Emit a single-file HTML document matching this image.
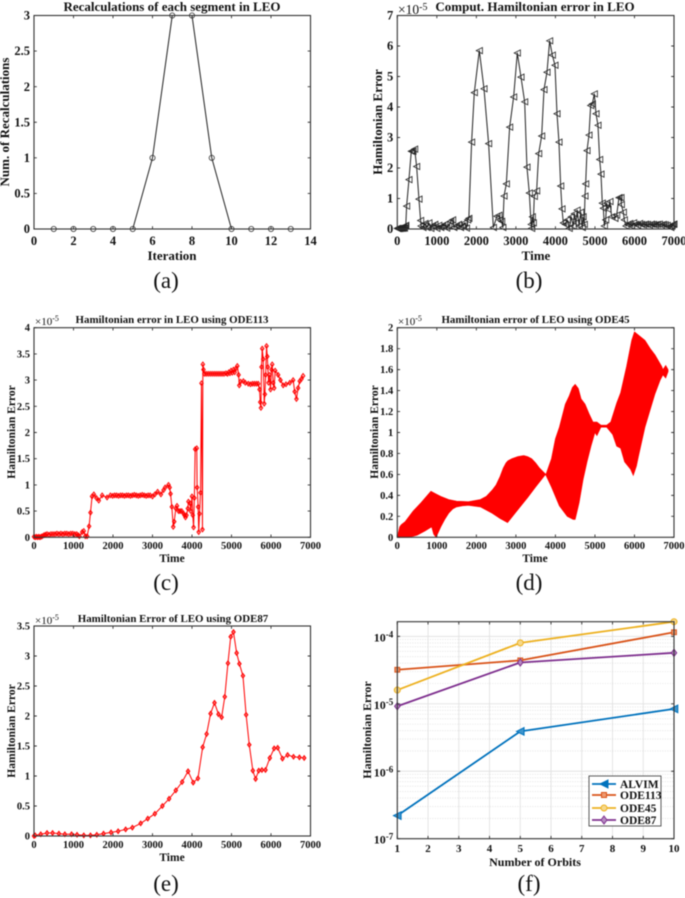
<!DOCTYPE html>
<html lang="en">
<head>
<meta charset="utf-8">
<title>Hamiltonian error charts</title>
<style>
html,body{margin:0;padding:0;background:#fff;width:685px;height:898px;overflow:hidden}
svg{display:block;filter:blur(.4px)}
text{font-family:"Liberation Serif",serif;font-weight:bold;fill:#111}
.cap{font-weight:normal;font-size:23px}
</style>
</head>
<body>
<svg id="fig" xmlns="http://www.w3.org/2000/svg" width="685" height="898" viewBox="0 0 685 898">
  <rect x="0" y="0" width="685" height="898" fill="#fff"/>

  <g id="pa"></g>
  <text x="172" y="11" text-anchor="middle" font-size="13">Recalculations of each segment in LEO</text>
  <text x="172" y="260" text-anchor="middle" font-size="13">Iteration</text>
  <text transform="translate(9,122) rotate(-90)" text-anchor="middle" font-size="13">Num. of Recalculations</text>
  <text class="cap" x="166" y="288" text-anchor="middle">(a)</text>

  <g id="pb"></g>
  <text x="535" y="11" text-anchor="middle" font-size="13">Comput. Hamiltonian error in LEO</text>
  <text x="398" y="14" font-size="13.5" style="font-weight:normal">×10<tspan dy="-4" font-size="10">-5</tspan></text>
  <text x="536" y="260" text-anchor="middle" font-size="13">Time</text>
  <text transform="translate(382,122) rotate(-90)" text-anchor="middle" font-size="13">Hamiltonian Error</text>
  <text class="cap" x="529" y="288" text-anchor="middle">(b)</text>

  <g id="pc"></g>
  <text x="172" y="323" text-anchor="middle" font-size="10.9">Hamiltonian error in LEO using ODE113</text>
  <text x="35" y="325" font-size="11" style="font-weight:normal">×10<tspan dy="-4" font-size="8">-5</tspan></text>
  <text x="172" y="562" text-anchor="middle" font-size="11.5">Time</text>
  <text transform="translate(15,432) rotate(-90)" text-anchor="middle" font-size="11.5">Hamiltonian Error</text>
  <text class="cap" x="166" y="590" text-anchor="middle">(c)</text>

  <g id="pd"></g>
  <text x="535.5" y="323" text-anchor="middle" font-size="10.9">Hamiltonian error of LEO using ODE45</text>
  <text x="398" y="325" font-size="11" style="font-weight:normal">×10<tspan dy="-4" font-size="8">-5</tspan></text>
  <text x="535" y="562" text-anchor="middle" font-size="11.5">Time</text>
  <text transform="translate(378,432) rotate(-90)" text-anchor="middle" font-size="11.5">Hamiltonian Error</text>
  <text class="cap" x="529" y="590" text-anchor="middle">(d)</text>

  <g id="pe"></g>
  <text x="173" y="622" text-anchor="middle" font-size="10.9">Hamiltonian Error of LEO using ODE87</text>
  <text x="35" y="624" font-size="11" style="font-weight:normal">×10<tspan dy="-4" font-size="8">-5</tspan></text>
  <text x="172" y="861" text-anchor="middle" font-size="11.5">Time</text>
  <text transform="translate(15,731) rotate(-90)" text-anchor="middle" font-size="11.5">Hamiltonian Error</text>
  <text class="cap" x="166" y="891" text-anchor="middle">(e)</text>

  <g id="pf"></g>
  <text x="535" y="866" text-anchor="middle" font-size="12">Number of Orbits</text>
  <text transform="translate(371,730) rotate(-90)" text-anchor="middle" font-size="12">Hamiltonian Error</text>
  <text class="cap" x="529" y="891" text-anchor="middle">(f)</text>

  <g>
    <rect x="589" y="776" width="72" height="50" fill="#fff" stroke="#333" stroke-width="0.8"/>
    <g>
      <line x1="592" x2="616" y1="784" y2="784" stroke="#0072BD" stroke-width="1.7"/>
      <path d="M600 784L608 780V788Z" fill="#0072BD" stroke="#0072BD"/>
      <text x="620" y="788" font-size="11.5">ALVIM</text>
    </g>
    <g>
      <line x1="592" x2="616" y1="795" y2="795" stroke="#D95319" stroke-width="1.7"/>
      <rect x="601.5" y="792.5" width="5" height="5" fill="#EE9A70" stroke="#D95319"/>
      <text x="620" y="799" font-size="11.5">ODE113</text>
    </g>
    <g>
      <line x1="592" x2="616" y1="808" y2="808" stroke="#EDB120" stroke-width="1.7"/>
      <circle cx="604" cy="808" r="3" fill="#F6D88A" stroke="#EDB120"/>
      <text x="620" y="812" font-size="11.5">ODE45</text>
    </g>
    <g>
      <line x1="592" x2="616" y1="820" y2="820" stroke="#7E2F8E" stroke-width="1.7"/>
      <path d="M604 816L607 820L604 824L601 820Z" fill="#B58BC0" stroke="#7E2F8E"/>
      <text x="620" y="824" font-size="11.5">ODE87</text>
    </g>
  </g>
</svg>

<script>
// ---------- chart data ----------
const iterationA = [1,2,3,4,5,6,7,8,9,10,11,12,13];
const recalcA = [0,0,0,0,0,1,3,3,1,0,0,0,0];
const xTicksA = [0,2,4,6,8,10,12,14];
const yTicksA = [0,0.5,1,1.5,2,2.5,3];

const timeB = [
0,20,40,60,80,100,120,140,160,180,
200,215,236,295,354,396,439,489,548,590,
600,650,700,750,800,850,900,950,1000,1050,
1100,1150,1200,1250,1300,1350,1400,1430,1500,1550,
1600,1650,1700,1750,1780,1810,1880,1948,2075,2193,
2310,2430,2520,2570,2600,2640,2670,2700,2758,2842,
2943,3036,3129,3222,3280,3340,3385,3400,3415,3440,
3466,3525,3576,3652,3711,3787,3854,3922,3989,4040,
4090,4133,4166,4200,4250,4300,4350,4400,4450,4480,
4520,4550,4600,4640,4680,4700,4730,4748,4765,4799,
4849,4892,4934,4984,5027,5077,5119,5153,5186,5212,
5238,5271,5296,5330,5380,5423,5507,5549,5608,5658,
5667,5718,5743,5785,5830,5880,5930,5980,6030,6080,
6130,6180,6230,6280,6330,6380,6430,6480,6530,6580,
6630,6680,6730,6780,6830,6880,6920,6950,6975,7000];
const errorB = [
0.02,0.01,0.02,0.01,0.03,0.02,0.04,0.02,0.05,0.03,
0.1,0.12,0.75,1.62,2.55,2.55,2.62,2.05,0.98,0.28,
0.1,0.05,0.18,0.05,0.2,0.02,0.1,0.15,0.02,0.12,
0.05,0.1,0.15,0.03,0.1,0.25,0.3,0.05,0.1,0.15,
0.05,0.1,0.2,0.03,0.3,0.35,2.85,4.47,5.85,4.6,
2.8,0.05,0.42,0.45,0.3,0.25,0.05,1.08,1.48,3.34,
4.33,5.77,4.98,4.17,2.03,1.18,0.15,0.02,0.4,0.2,
1.07,1.25,2.47,3.05,4.57,5.14,6.17,5.7,5.37,3.78,
2.85,1.41,0.66,0.2,0.15,0.3,0.02,0.4,0.1,0.5,
0.2,0.62,0.1,0.55,0.05,0.4,0.15,1.08,1.48,2.57,
3.08,4.05,4.1,4.43,3.78,3.4,2.28,1.8,0.85,0.68,
0.1,0.3,0.85,0.65,0.9,0.4,0.35,0.45,1.03,1.03,
0.8,0.55,0.3,0.1,0.15,0.18,0.1,0.2,0.15,0.12,
0.18,0.15,0.14,0.16,0.15,0.13,0.16,0.15,0.14,0.15,
0.16,0.13,0.15,0.14,0.12,0.08,0.05,0.1,0.15,0.16];
const xTicksB = [0,1000,2000,3000,4000,5000,6000,7000];
const yTicksB = [0,1,2,3,4,5,6,7];

const timeC = [
0,30,60,90,120,150,180,210,250,290,
330,380,430,480,530,580,630,680,730,780,
830,880,930,980,1030,1080,1120,1150,1220,1260,
1300,1345,1395,1430,1470,1515,1580,1640,1725,1850,
1935,1990,2040,2090,2140,2190,2240,2290,2340,2390,
2440,2490,2540,2590,2640,2690,2740,2790,2840,2890,
2940,3000,3060,3130,3213,3280,3320,3405,3435,3457,
3490,3525,3550,3590,3620,3660,3700,3740,3790,3810,
3835,3860,3895,3910,3950,3970,4000,4020,4040,4060,
4080,4120,4130,4155,4170,4190,4215,4240,4265,4275,
4290,4315,4360,4410,4460,4510,4560,4610,4660,4710,
4760,4810,4860,4900,4930,4960,4990,5020,5050,5080,
5110,5147,5180,5197,5230,5300,5350,5425,5480,5530,
5580,5630,5677,5710,5727,5745,5760,5778,5803,5828,
5845,5865,5887,5905,5920,5938,5963,5988,6013,6030,
6055,6080,6105,6180,6240,6308,6380,6476,6560,6600,
6644,6686,6728,6770,6812];
const errorC = [
0.01,0,0.01,0,0.01,0,0.01,0.02,0.04,0.05,
0.06,0.05,0.06,0.06,0.06,0.07,0.06,0.07,0.06,0.07,
0.07,0.06,0.07,0.07,0.06,0.06,0.04,0.02,0.1,0.12,
0.02,0.02,0.21,0.47,0.78,0.82,0.75,0.7,0.8,0.76,
0.8,0.79,0.8,0.8,0.79,0.8,0.8,0.79,0.8,0.8,
0.79,0.8,0.81,0.8,0.79,0.8,0.81,0.8,0.79,0.8,
0.8,0.78,0.82,0.87,0.82,0.9,0.95,1.0,0.95,0.83,
0.58,0.2,0.3,0.55,0.6,0.5,0.5,0.5,0.45,0.42,
0.38,0.42,0.55,0.68,0.65,0.5,0.78,0.42,0.19,0.75,
1.68,1.7,0.95,0.58,0.1,0.45,0.85,2.94,0.15,3.3,
3.2,3.12,3.12,3.12,3.12,3.12,3.12,3.12,3.12,3.12,
3.12,3.12,3.13,3.12,3.15,3.13,3.18,3.14,3.2,3.15,
3.22,3.27,3.1,2.9,2.97,2.98,2.95,2.93,2.92,2.93,
2.93,2.93,2.93,2.82,2.58,2.47,3.25,3.6,3.4,2.55,
2.73,3.1,3.65,3.45,3.25,2.95,3.1,2.82,3.2,3.3,
2.95,2.85,3.18,3.1,3.0,2.9,2.92,2.95,3.0,2.78,
2.64,2.85,2.98,3.02,3.08];
const xTicksC = [0,1000,2000,3000,4000,5000,6000,7000];
const yTicksC = [0,0.5,1,1.5,2,2.5,3,3.5,4];

const upperTimeD = [0,30,60,100,200,400,600,850,1000,1100,1300,1500,1800,2100,2250,2400,2500,2600,2680,2750,2800,2900,3050,3200,3300,3400,3500,3600,3680,3760,3900,4000,4100,4250,4350,4430,4500,4580,4650,4750,4850,4950,5050,5150,5300,5400,5550,5650,5800,5930,6000,6265,6400,6520,6690,6720,6790,6850];
const upperD = [0,0.05,0.1,0.12,0.15,0.25,0.33,0.44,0.41,0.39,0.36,0.345,0.34,0.36,0.39,0.45,0.5,0.58,0.66,0.71,0.73,0.75,0.77,0.78,0.77,0.75,0.71,0.66,0.63,0.6,0.75,0.94,1.05,1.27,1.35,1.43,1.46,1.42,1.32,1.27,1.18,1.1,1.1,1.07,1.07,1.1,1.28,1.38,1.63,1.88,1.96,1.88,1.8,1.74,1.63,1.6,1.64,1.6];
const lowerTimeD = [0,100,300,500,700,870,920,980,1100,1200,1300,1400,1500,1650,1800,2100,2400,2600,2790,3000,3300,3500,3750,3900,4100,4300,4450,4500,4600,4700,4800,4900,5000,5050,5150,5300,5450,5550,5650,5750,5900,5970,6050,6100,6265,6400,6520,6650,6720,6790,6850];
const lowerD = [0,0,0,0.02,0.06,0.1,0.03,0,0.1,0.17,0.23,0.27,0.29,0.3,0.305,0.29,0.23,0.18,0.14,0.24,0.38,0.48,0.6,0.48,0.3,0.2,0.17,0.17,0.33,0.55,0.72,0.87,1.0,0.97,1.05,1.05,0.98,0.87,0.85,0.72,0.65,0.59,0.68,0.77,1.05,1.22,1.37,1.5,1.55,1.52,1.58];
const xTicksD = [0,1000,2000,3000,4000,5000,6000,7000];
const yTicksD = [0,0.2,0.4,0.6,0.8,1,1.2,1.4,1.6,1.8,2];

const timeE = [0,30,170,330,470,630,780,950,1090,1260,1430,1590,1760,1950,2130,2320,2490,2700,2880,3060,3250,3420,3590,3750,3900,4030,4150,4270,4370,4470,4570,4670,4750,4830,4910,4980,5050,5130,5200,5290,5370,5450,5540,5610,5690,5770,5860,5970,6080,6170,6290,6420,6570,6720,6840];
const errorE = [0,0.01,0.03,0.05,0.05,0.04,0.03,0.03,0.02,0.01,0.01,0.02,0.04,0.06,0.08,0.11,0.14,0.21,0.29,0.37,0.5,0.62,0.76,0.9,1.08,0.89,0.96,1.48,1.7,2.04,2.22,2.03,1.98,2.32,2.88,3.32,3.4,3.05,2.87,2.67,2.02,1.52,1.09,0.95,1.09,1.1,1.1,1.3,1.46,1.47,1.29,1.35,1.32,1.31,1.3];
const xTicksE = [0,1000,2000,3000,4000,5000,6000,7000];
const yTicksE = [0,0.5,1,1.5,2,2.5,3,3.5];

const orbitsF = [1,5,10];
const alvimF = [2.2e-7,3.9e-6,8.4e-6];
const ode113F = [3.2e-5,4.4e-5,1.15e-4];
const ode45F = [1.6e-5,8e-5,1.65e-4];
const ode87F = [9.2e-6,4.1e-5,5.7e-5];
const xTicksF = [1,2,3,4,5,6,7,8,9,10];
const decadesF = [-7,-6,-5,-4];

// ---------- helpers ----------
const NS = 'http://www.w3.org/2000/svg';
function make(tag, parent, attrs) {
  const node = document.createElementNS(NS, tag);
  for (const k in attrs) node.setAttribute(k, attrs[k]);
  parent.appendChild(node);
  return node;
}
function linear(d0, d1, r0, r1) {
  return v => r0 + (v - d0) / (d1 - d0) * (r1 - r0);
}
function polyPoints(xs, ys, sx, sy) {
  return xs.map((x, i) => sx(x).toFixed(2) + ',' + sy(ys[i]).toFixed(2)).join(' ');
}
function frame(g, box) {
  const el = make('rect', g, {x: box.l, y: box.t, width: box.r - box.l, height: box.b - box.t, fill: 'none', stroke: '#333', 'stroke-width': 1.1});
  
  
}
function xTickMarks(g, box, ticks, sx, fontSize, baseY, len) {
  ticks.forEach(v => {
    const x = sx(v);
    const mark = make('path', g, {d: `M${x} ${box.b}v${-len}M${x} ${box.t}v${len}`, stroke: '#333', 'stroke-width': 0.9, fill: 'none'});
    
    
    const label = make('text', g, {x: x, y: baseY, 'text-anchor': 'middle', 'font-size': fontSize});
    label.textContent = String(v);
    
    
  });
}
function yTickMarks(g, box, ticks, sy, fontSize, len) {
  ticks.forEach(v => {
    const y = sy(v);
    const mark = make('path', g, {d: `M${box.l} ${y}h${len}M${box.r} ${y}h${-len}`, stroke: '#333', 'stroke-width': 0.9, fill: 'none'});
    
    
    const label = make('text', g, {x: box.l - 4, y: y + fontSize * 0.33, 'text-anchor': 'end', 'font-size': fontSize});
    label.textContent = String(v);
    
    
  });
}
function seriesLine(g, xs, ys, sx, sy, color, width) {
  const line = make('polyline', g, {points: polyPoints(xs, ys, sx, sy), fill: 'none', stroke: color, 'stroke-width': width, 'stroke-linejoin': 'round'});
  
  
}
const shapes = {
  circle: r => `M${-r} 0A${r} ${r} 0 1 0 ${r} 0A${r} ${r} 0 1 0 ${-r} 0Z`,
  triangle: r => `M${-r} 0L${r} ${-r}V${r}Z`,
  diamond: r => `M0 ${-r}L${r * 0.75} 0L0 ${r}L${-r * 0.75} 0Z`,
  square: r => `M${-r} ${-r}H${r}V${r}H${-r}Z`
};
function seriesMarkers(g, xs, ys, sx, sy, shape, r, stroke, fill, sw) {
  xs.forEach((x, i) => {
    const m = make('path', g, {d: shapes[shape](r), transform: `translate(${sx(x).toFixed(2)},${sy(ys[i]).toFixed(2)})`, fill: fill, stroke: stroke, 'stroke-width': sw});
    
    
  });
}

// ---------- panel (a) ----------
(function () {
  const g = document.getElementById('pa');
  const box = {l: 34, r: 310.5, t: 15.5, b: 229};
  const sx = linear(0, 14, box.l, box.r), sy = linear(0, 3, box.b, box.t);
  seriesLine(g, iterationA, recalcA, sx, sy, '#222', 1);
  seriesMarkers(g, iterationA, recalcA, sx, sy, 'circle', 2.6, '#333', 'none', 0.8);
  frame(g, box);
  xTickMarks(g, box, xTicksA, sx, 12.5, 245, 2.8);
  yTickMarks(g, box, yTicksA, sy, 12.5, 2.8);
})();

// ---------- panel (b) ----------
(function () {
  const g = document.getElementById('pb');
  const box = {l: 397.3, r: 674, t: 15.5, b: 229};
  const sx = linear(0, 7000, box.l, box.r), sy = linear(0, 7, box.b, box.t);
  seriesLine(g, timeB, errorB, sx, sy, '#222', 1);
  seriesMarkers(g, timeB, errorB, sx, sy, 'triangle', 3.1, '#222', 'none', 0.8);
  frame(g, box);
  xTickMarks(g, box, xTicksB, sx, 12.5, 245, 2.8);
  yTickMarks(g, box, yTicksB, sy, 12.5, 2.8);
})();

// ---------- panel (c) ----------
(function () {
  const g = document.getElementById('pc');
  const box = {l: 34, r: 310.5, t: 327.7, b: 537.3};
  const sx = linear(0, 7000, box.l, box.r), sy = linear(0, 4, box.b, box.t);
  seriesLine(g, timeC, errorC, sx, sy, '#f00', 1);
  seriesMarkers(g, timeC, errorC, sx, sy, 'diamond', 2.3, '#f00', 'none', 1);
  frame(g, box);
  xTickMarks(g, box, xTicksC, sx, 10.5, 549, 2.8);
  yTickMarks(g, box, yTicksC, sy, 10.5, 2.8);
})();

// ---------- panel (d) ----------
(function () {
  const g = document.getElementById('pd');
  const box = {l: 397.3, r: 674, t: 327.7, b: 537.3};
  const sx = linear(0, 7000, box.l, box.r), sy = linear(0, 2, box.b, box.t);
  const band = make('polygon', g, {
    points: polyPoints(upperTimeD, upperD, sx, sy) + ' ' +
      polyPoints(lowerTimeD.slice().reverse(), lowerD.slice().reverse(), sx, sy),
    fill: '#f00', stroke: '#f00', 'stroke-width': 0.6
  });
  
  
  frame(g, box);
  xTickMarks(g, box, xTicksD, sx, 10.5, 549, 2.8);
  yTickMarks(g, box, yTicksD, sy, 10.5, 2.8);
})();

// ---------- panel (e) ----------
(function () {
  const g = document.getElementById('pe');
  const box = {l: 34, r: 310.5, t: 626, b: 836};
  const sx = linear(0, 7000, box.l, box.r), sy = linear(0, 3.5, box.b, box.t);
  seriesLine(g, timeE, errorE, sx, sy, '#f00', 1);
  seriesMarkers(g, timeE, errorE, sx, sy, 'diamond', 2.3, '#f00', '#f66', 1);
  frame(g, box);
  xTickMarks(g, box, xTicksE, sx, 10.5, 848, 2.8);
  yTickMarks(g, box, yTicksE, sy, 10.5, 2.8);
})();

// ---------- panel (f) ----------
(function () {
  const g = document.getElementById('pf');
  const box = {l: 397.3, r: 674, t: 621.7, b: 838.7};
  const sx = linear(1, 10, box.l, box.r);
  const logTop = Math.log10(1.65e-4);
  const sy = v => box.b - (Math.log10(v) + 7) / (logTop + 7) * (box.b - box.t);

  xTicksF.forEach(v => {
    const line = make('line', g, {x1: sx(v), x2: sx(v), y1: box.t, y2: box.b, stroke: '#e2e2e2', 'stroke-width': 0.9});
    
    
  });
  decadesF.forEach(d => {
    for (let m = 1; m < 10; m++) {
      const v = m * Math.pow(10, d);
      if (v > 1.65e-4) continue;
      const line = make('line', g, {x1: box.l, x2: box.r, y1: sy(v), y2: sy(v), stroke: m === 1 ? '#e2e2e2' : '#d4d4d4', 'stroke-width': m === 1 ? 0.9 : 0.6, 'stroke-dasharray': m === 1 ? 'none' : '1 1.5'});
      
      
    }
  });
  seriesLine(g, orbitsF, alvimF, sx, sy, '#0072BD', 1.8);
  seriesMarkers(g, orbitsF, alvimF, sx, sy, 'triangle', 3.8, '#0072BD', '#3d94cc', 1);
  seriesLine(g, orbitsF, ode113F, sx, sy, '#D95319', 1.8);
  seriesMarkers(g, orbitsF, ode113F, sx, sy, 'square', 2.4, '#D95319', '#EE9A70', 1);
  seriesLine(g, orbitsF, ode45F, sx, sy, '#EDB120', 1.8);
  seriesMarkers(g, orbitsF, ode45F, sx, sy, 'circle', 3, '#EDB120', '#F6D88A', 1);
  seriesLine(g, orbitsF, ode87F, sx, sy, '#7E2F8E', 1.8);
  seriesMarkers(g, orbitsF, ode87F, sx, sy, 'diamond', 3.6, '#7E2F8E', '#B58BC0', 1);
  frame(g, box);
  xTickMarks(g, box, xTicksF, sx, 11, 852, 2.8);
  decadesF.forEach(d => {
    const y = sy(Math.pow(10, d));
    const label = make('text', g, {x: box.l - 4, y: y + 5, 'text-anchor': 'end', 'font-size': 12});
    
    
    const base = make('tspan', label, {});
    base.textContent = '10';
    const exp = make('tspan', label, {dy: -4, 'font-size': 9});
    exp.textContent = String(d);
    const mark = make('path', g, {d: `M${box.l} ${y}h2.8M${box.r} ${y}h-2.8`, stroke: '#333', 'stroke-width': 0.9, fill: 'none'});
    
    
  });
})();
</script>
</body>
</html>
